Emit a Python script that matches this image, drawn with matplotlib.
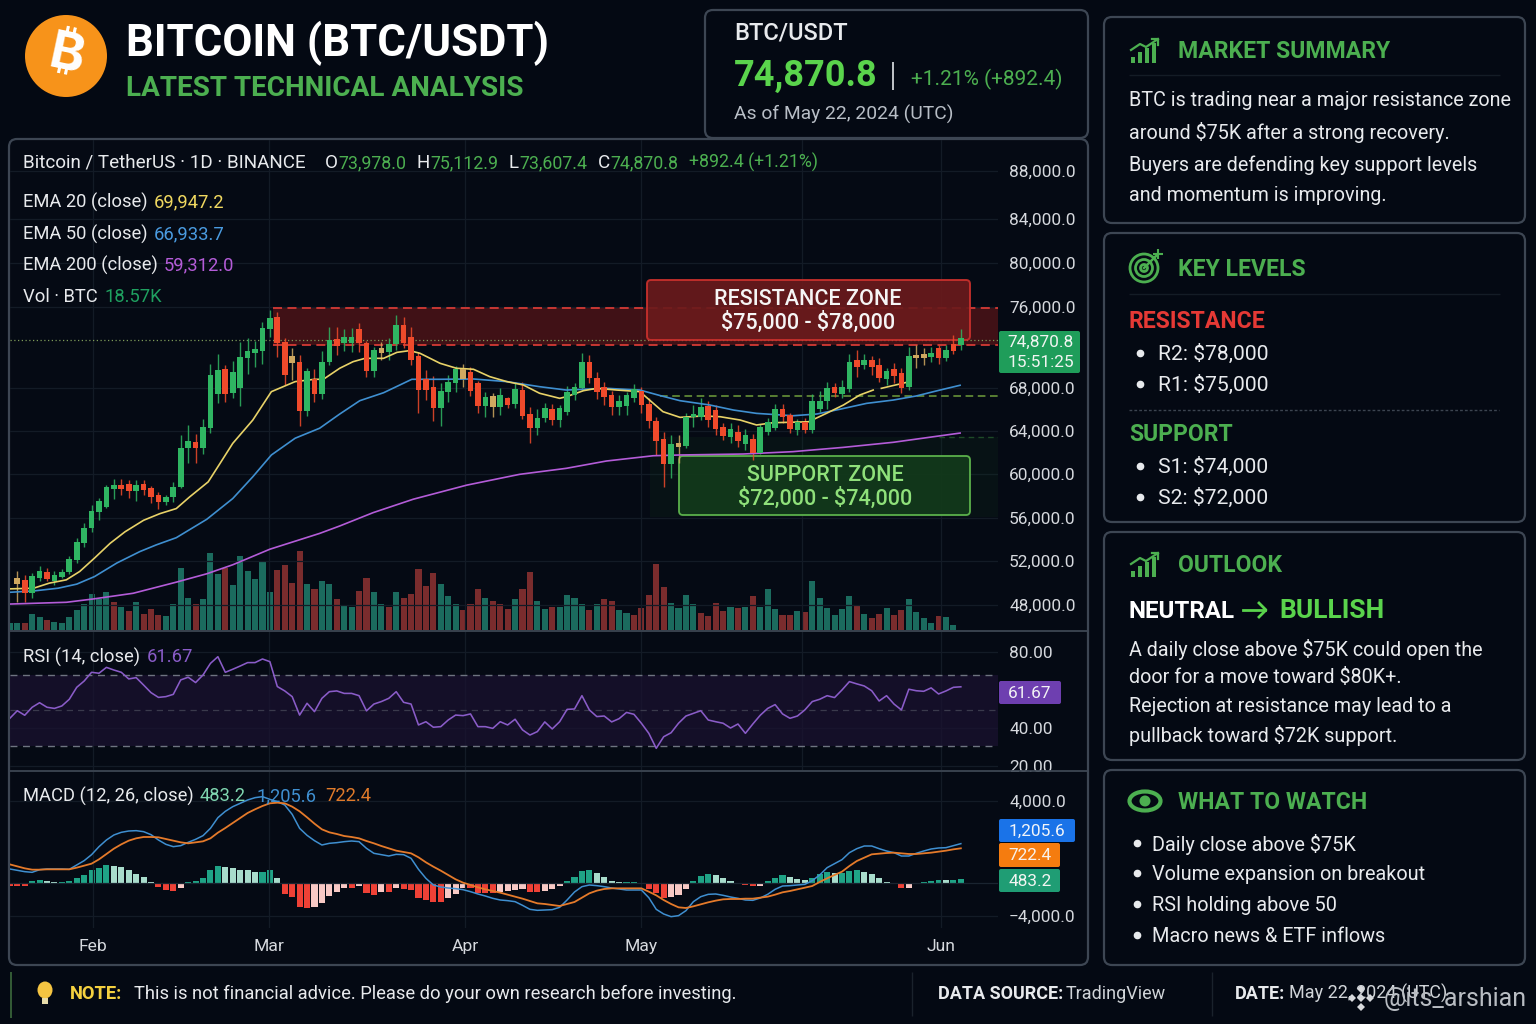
import numpy as np
import matplotlib
matplotlib.use('Agg')
import matplotlib.pyplot as plt
from matplotlib.patches import FancyBboxPatch, Rectangle, Circle, Ellipse

plt.rcParams['font.family'] = ['Roboto', 'DejaVu Sans']

# ---- data ----
opens = [49920, 50290, 49090, 50470, 51020, 50200, 50570, 51020, 52120, 53680,
         55050, 56520, 56980, 58630, 58990, 59080, 58440, 59080, 58720, 58080,
         57440, 57890, 58810, 62420, 62980, 62420, 64280, 67440, 69880, 67540,
         68000, 70960, 71460, 71660, 73830, 75010, 72540, 70470, 70570, 65860,
         68890, 67440, 70570, 72840, 72450, 72450, 73830, 72450, 69680, 71460,
         71560, 72350, 74220, 73040, 71160, 68890, 68100, 66140, 67630, 68490,
         69880, 69580, 68490, 66330, 67260, 66230, 67070, 66510, 67810, 65580,
         64280, 65210, 66050, 65020, 65770, 67350, 68000, 70570, 68990, 68100,
         67350, 66230, 66330, 67070, 67720, 66510, 64930, 63260, 60930, 62510,
         62600, 65300, 65300, 66330, 65950, 64370, 63440, 63910, 62790, 63260,
         61950, 63910, 64280, 66050, 65490, 64090, 64840, 64090, 66050, 66790,
         68100, 67440, 67910, 70770, 70270, 70770, 70270, 68890, 69880, 69480,
         68100, 71260, 70960, 71060, 71950, 70960, 72350, 72250]
highs = [51110, 50750, 50930, 51570, 51390, 51110, 51300, 52490, 54140, 55510,
         57160, 57800, 58990, 59540, 59540, 59450, 59450, 59450, 58900, 58350,
         58080, 59270, 63630, 64560, 63720, 65120, 70370, 71360, 70270, 70670,
         72540, 72940, 72640, 74520, 75710, 75510, 72940, 71950, 71260, 69980,
         69880, 71660, 74030, 74030, 73830, 73930, 74420, 72640, 72050, 72540,
         72940, 75210, 75010, 74030, 71560, 69780, 69190, 68490, 69280, 70170,
         70370, 70070, 68690, 67630, 67540, 68000, 67160, 68490, 68590, 66230,
         66050, 66600, 66510, 66420, 68200, 68490, 71460, 71260, 69580, 68590,
         67720, 67350, 67630, 68400, 68100, 67070, 65300, 63910, 63630, 63630,
         65680, 66420, 67070, 66790, 66420, 64750, 64750, 64560, 64190, 63720,
         64650, 65210, 66510, 66510, 65680, 65120, 65210, 67440, 67720, 68590,
         68490, 68790, 71360, 71750, 71360, 71160, 70960, 69980, 70470, 69980,
         72050, 72250, 71950, 72050, 72250, 72250, 73240, 73830]
lows = [48260, 48260, 48630, 50200, 50200, 49830, 50470, 50840, 51850, 53310,
        54690, 55790, 56880, 57710, 58080, 57800, 57530, 58080, 57340, 56790,
        57160, 57440, 58720, 61020, 61020, 61860, 63810, 66600, 66700, 67070,
        66330, 69380, 70070, 70370, 73040, 71060, 68300, 68790, 64470, 65400,
        66700, 66980, 70270, 71260, 71660, 71560, 71560, 69090, 69090, 70770,
        70770, 71750, 71950, 70270, 65680, 66880, 64930, 64470, 66700, 67630,
        68100, 67260, 65680, 65300, 65300, 65490, 66140, 66140, 65120, 62890,
        63630, 64840, 64560, 64370, 65490, 66880, 67810, 68490, 66980, 66420,
        65490, 65490, 65490, 66700, 65680, 64280, 61770, 58810, 59630, 61020,
        62420, 64370, 65020, 64370, 63630, 63160, 62890, 62510, 62230, 61300,
        61860, 63630, 64090, 64750, 63810, 63630, 63810, 63810, 65770, 66050,
        67160, 67070, 67630, 69090, 69880, 69280, 68590, 68300, 68490, 67540,
        67810, 69980, 70270, 70570, 70370, 70670, 71360, 71750]
closes = [50470, 49090, 50660, 51110, 50380, 50750, 51020, 52210, 53770, 55050,
          56610, 57530, 58810, 58990, 58630, 58440, 58990, 58530, 57890, 57440,
          57890, 58810, 62420, 63070, 62420, 64370, 69280, 69780, 67440, 69580,
          71060, 71660, 71850, 73930, 74920, 72450, 69280, 71160, 65860, 69680,
          67440, 70570, 72740, 72150, 73040, 73040, 72450, 69680, 71750, 71950,
          72350, 74220, 72450, 70770, 67810, 67810, 66140, 67720, 68590, 69880,
          68890, 67720, 66330, 67160, 66230, 67350, 66420, 67910, 65400, 64280,
          65210, 66140, 65020, 66140, 67630, 68100, 70570, 68990, 67630, 67160,
          66230, 66790, 67350, 67910, 66420, 64930, 63070, 60930, 62790, 62890,
          65300, 65580, 66230, 65020, 64190, 63530, 64190, 63070, 63630, 61950,
          64370, 64840, 66050, 65300, 64190, 64840, 64090, 66790, 66790, 68000,
          67540, 68100, 70570, 70070, 70770, 70070, 68990, 69680, 69190, 68000,
          71160, 70960, 71360, 71460, 70960, 71750, 71660, 72940]
muted_candles = [0, 37, 49, 60, 64, 89, 121, 122]

volumes = [26, 26, 26, 59, 48, 37, 30, 26, 48, 74,
           96, 133, 115, 141, 104, 85, 70, 104, 59, 78,
           56, 52, 96, 229, 118, 96, 115, 285, 207, 229,
           167, 274, 218, 189, 255, 141, 222, 241, 174, 292,
           170, 152, 181, 170, 115, 93, 85, 144, 192, 141,
           96, 85, 141, 118, 133, 226, 163, 211, 170, 126,
           96, 74, 96, 152, 118, 107, 96, 78, 115, 152,
           215, 107, 78, 85, 85, 130, 118, 96, 74, 96,
           115, 107, 74, 63, 56, 81, 130, 244, 159, 100,
           81, 130, 96, 63, 52, 100, 70, 85, 81, 85,
           126, 85, 152, 78, 56, 56, 70, 67, 181, 118,
           81, 56, 78, 126, 93, 59, 44, 59, 81, 56,
           74, 115, 67, 44, 26, 52, 48, 18.57]
vol_dirs = ("UUDUUDUUUU" "UUUUDUDUDD" "DUUUUDUUUD" "UUUUUUDDDD" "UDUUDUUDDU" "UDUDDDDDUU"
            "UDDDUDDDUD" "DUUDUUUUDU" "DDUUDDDDDU" "UUUDDDDUDU" "DUUUDDUDUU" "UUUUDUDDUD" "DUUUUDUU")

ema20_x = [-1, 2.2, 4.3, 6.6, 8.4, 10.4, 12.5, 14.5, 17, 19.2, 21.4, 23.2, 25.7, 27.3, 29, 31.7, 34.2, 37.4, 40, 41.2,
           43.4, 45.2, 46.8, 49.3, 51.1, 52.8, 54.2, 56.9, 59.1, 61.4, 63.6, 65.9, 68.1, 70.3, 73, 73.9, 76.2, 78, 80.7,
           83.8, 85.1, 86.9, 89.2, 92.3, 94.6, 97.3, 99.5, 101.7, 106.5, 108.9, 111.2, 113.4, 115.2, 115.7, 116.3, 118.8, 120.1]
ema20 = [49470, 49530, 49990, 50290, 51050, 52280, 53650, 54720, 55790, 56400, 56860, 57920, 59290, 61000, 62850, 65020,
         67660, 68630, 68860, 68860, 69950, 70600, 70930, 70930, 71520, 71690, 71430, 70440, 69950, 69850, 69120, 68630,
         68300, 67510, 67040, 67190, 67750, 67970, 67810, 67660, 66880, 65800, 65270, 65400, 65330, 65020, 64560, 64770,
         64860, 65640, 66420, 67350, 67810, np.nan, 67970, 68400, 68630]
ema50_x = [-1, 2.2, 5.5, 8, 10.4, 13.4, 16.5, 18.7, 21.4, 25.5, 29, 31.7, 34.2, 37.4, 40.7, 43.4, 46.1, 49.3, 51.5, 53.1,
           56.9, 61.4, 65.9, 70.3, 73.9, 79.3, 83.8, 86.5, 89.2, 93.2, 96.4, 99.5, 104.4, 107.6, 110.7, 114.3, 117.9, 121,
           124.2, 126.9]
ema50 = [49160, 49280, 49530, 49900, 50590, 51820, 52880, 53500, 54170, 55880, 57770, 59750, 61770, 63330, 64260, 65580,
         66820, 67560, 68300, 68860, 68860, 68890, 68630, 68130, 67810, 67970, 67810, 67300, 66820, 66420, 65950, 65640,
         65420, 65580, 66020, 66570, 66880, 67260, 67810, 68270]
ema200_x = [-1, 6.6, 10.2, 15.6, 21.4, 25.5, 29, 34, 37.6, 40.7, 43.4, 47.9, 53.3, 60.5, 67.6, 73.9, 79.3, 85.6, 89.2,
            97.7, 104.4, 111.2, 117.9, 122.4, 126.9]
ema200 = [48090, 48250, 48550, 49070, 50080, 50840, 51660, 53100, 53890, 54570, 55260, 56490, 57710, 58990, 59970, 60530,
          61210, 61700, 61770, 61860, 62080, 62480, 62950, 63380, 63810]

rsi = [45.1, 49.1, 46.7, 50.9, 53.3, 50.9, 50.3, 51.6, 55.1, 61.4, 64.7, 69.3, 68.8, 71.9, 70.5, 69.3, 65.8, 66.5, 62.6, 58.6,
       56.1, 56.5, 57.7, 65.3, 66.7, 63.9, 67.9, 74.0, 77.5, 69.3, 70.9, 72.6, 74.4, 74.4, 76.3, 74.9, 61.8, 59.5, 56.5, 46.8,
       53.0, 48.6, 55.6, 59.1, 59.5, 58.2, 58.2, 57.0, 49.0, 52.6, 53.9, 55.6, 59.1, 53.5, 52.6, 41.6, 43.3, 40.4, 40.7, 44.2,
       46.8, 46.5, 47.4, 40.7, 40.7, 39.8, 43.3, 41.6, 44.6, 39.0, 36.3, 38.1, 43.2, 39.5, 43.3, 49.8, 50.0, 57.0, 49.5, 46.0,
       46.3, 43.2, 44.9, 48.2, 47.2, 42.5, 37.2, 29.3, 35.4, 37.5, 42.5, 46.3, 47.7, 49.1, 44.2, 43.3, 42.5, 40.0, 42.1, 37.2,
       42.1, 46.7, 50.3, 52.3, 47.4, 45.1, 46.3, 49.5, 53.9, 55.1, 57.0, 56.0, 60.0, 64.4, 63.2, 62.1, 59.6, 54.2, 57.0, 52.6,
       49.5, 60.4, 59.6, 59.3, 61.1, 57.9, 59.5, 61.4, 61.67]

macd = [-730, -823, -916, -962, -777, -730, -730, -730, -754, -452, -150, 267, 824, 1288, 1636, 1822, 1914, 1938, 1868, 1659,
        1288, 986, 824, 894, 1126, 1334, 1590, 2100, 2842, 3283, 3608, 3840, 4072, 4234, 4304, 4118, 3956, 3724, 3074, 2100,
        1613, 1242, 940, 1056, 1102, 1172, 1218, 1172, 708, 360, 267, 174, 290, 267, 12, -754, -1380, -1844, -1983, -2053,
        -2099, -2169, -2308, -2470, -2610, -2772, -2888, -2934, -3004, -3259, -3538, -3607, -3584, -3561, -3398, -2888, -2331, -1960, -1844, -1890,
        -1960, -2053, -2122, -2192, -2192, -2192, -2726, -3538, -3862, -4048, -3978, -3630, -3004, -2656, -2494, -2470, -2563, -2679, -2772, -2888,
        -2911, -2749, -2494, -2146, -1914, -1890, -1844, -1798, -1542, -1148, -638, -359, -81, 406, 685, 870, 870, 685, 522,
        406, 174, 174, 360, 522, 662, 731, 754, 894, 1033]
signal = [-410, -545, -684, -777, -777, -754, -754, -754, -754, -638, -498, -359, -58, 314, 685, 986, 1242, 1404, 1497, 1497,
          1474, 1358, 1242, 1126, 1056, 1126, 1195, 1404, 1798, 2123, 2471, 2819, 3167, 3422, 3654, 3840, 3886, 3840, 3608, 3283,
          2866, 2425, 2030, 1822, 1706, 1566, 1497, 1404, 1218, 1056, 870, 708, 546, 453, 360, 82, -266, -568, -846, -1148,
          -1450, -1682, -1844, -2006, -2146, -2262, -2378, -2517, -2656, -2795, -2958, -3120, -3166, -3236, -3306, -3166, -3027, -2726, -2424, -2238,
          -2122, -2076, -2076, -2076, -2076, -2076, -2308, -2563, -2888, -3166, -3398, -3445, -3329, -3190, -3050, -2934, -2842, -2818, -2818, -2795,
          -2795, -2726, -2656, -2517, -2354, -2262, -2146, -2030, -1914, -1635, -1380, -1148, -916, -522, -174, 58, 290, 337, 383,
          406, 360, 314, 314, 360, 406, 476, 546, 638, 708]
hist = [-296, -296, -296, 185, 370, 222, 74, 74, 185, 518, 888, 1406, 1702, 1961, 1924, 1739, 1480, 1036, 629, 74,
        -444, -740, -888, -555, 74, 185, 518, 1480, 1924, 1776, 1628, 1480, 1406, 1184, 1221, 1406, 518, -1184, -1554, -2664,
        -2812, -2738, -2294, -1480, -1036, -555, -555, -370, -1110, -1295, -999, -1036, -555, -666, -740, -1665, -1850, -2146, -2146, -1665,
        -1184, -555, -555, -1110, -1110, -1110, -1036, -925, -740, -666, -1036, -1036, -925, -666, -370, 222, 666, 1295, 1480, 1110,
        666, 222, 74, 74, 74, -74, -666, -1110, -1665, -1554, -1295, -666, 259, 740, 1036, 888, 555, 222, -74, -185,
        -370, -296, 222, 592, 851, 666, 444, 370, 592, 1036, 1184, 1110, 1110, 1295, 1406, 1184, 962, 592, 111, -111,
        -592, -518, -111, 74, 185, 333, 296, 296, 483]

price_ticks = [48000, 52000, 56000, 60000, 64000, 68000, 76000, 80000, 84000, 88000]
rsi_ticks = [80, 40, 20]
macd_ticks = [4000, -4000]
month_labels = ['Feb', 'Mar', 'Apr', 'May', 'Jun']
month_pos = [10.2, 33.9, 60.3, 84.0, 124.3]
resistance_zone = (72250, 75900)
support_zone = (56060, 63440)
last_price = 72740
support_line = 67300

# the price axis in the picture is not evenly spaced, so map it through its own tick rows
scale_prices = [44000, 48000, 52000, 56000, 60000, 64000, 68000, 72000, 76000, 80000, 84000, 88000, 92000]
scale_rows = [648.4, 605, 561, 518, 474, 431, 388, 347.5, 307, 263, 219, 171, 123]

# ---- colours ----
BG = '#040913'
BORDER = '#3d4653'
GRID = '#131b26'
GREEN = '#4caf50'
BRIGHT = '#5ad44c'
TXT = '#e8eaed'
UP = '#2fb562'
DOWN = '#ef4a2b'
MUTED = '#cfa860'

W, H = 1536, 1024
fig = plt.figure(figsize=(W / 100, H / 100), dpi=100, facecolor=BG)


def px_axes(x0, y0, x1, y1, z):
    a = fig.add_axes([x0 / W, 1 - y1 / H, (x1 - x0) / W, (y1 - y0) / H], zorder=z)
    a.patch.set_visible(False)
    for s in a.spines.values():
        s.set_visible(False)
    return a


bg = px_axes(0, 0, W, H, 0)
ui = px_axes(0, 0, W, H, 10)
for a in (bg, ui):
    a.set_xlim(0, W)
    a.set_ylim(H, 0)
    a.axis('off')


def box(target, x0, y0, x1, y1, fc='none', ec=BORDER, lw=1.6, r=8, z=1, alpha=None):
    p = FancyBboxPatch((x0 + r, y0 + r), x1 - x0 - 2 * r, y1 - y0 - 2 * r, boxstyle=f'round,pad={r},rounding_size={r}',
                       fc=fc, ec=ec, lw=lw, zorder=z, alpha=alpha, transform=bg.transData, clip_on=False)
    target.add_patch(p)


def t(x, y, s, size, color=TXT, weight='normal', ha='left'):
    ui.text(x, y + size * 0.07, s, fontsize=size, color=color, fontweight=weight, ha=ha, va='center', parse_math=False)


# panels
box(bg, 9, 139, 1088, 965, fc='#050a14')
box(bg, 705, 10, 1088, 138, fc=BG)
box(bg, 1104, 17, 1525, 223, fc=BG)
box(bg, 1104, 233, 1525, 522, fc=BG)
box(bg, 1104, 532, 1525, 760, fc=BG)
box(bg, 1104, 770, 1525, 965, fc=BG)

# ---- chart panes ----
XMIN, XMAX = -0.98, 132.0
vol_ax = px_axes(10, 140, 998, 630, 1)
ax = px_axes(10, 140, 998, 630, 2)
rsi_ax = px_axes(10, 632, 998, 770, 2)
macd_ax = px_axes(10, 772, 998, 928, 2)
hist_ax = px_axes(10, 772, 998, 928, 1)


def fwd(p):
    return -np.interp(p, scale_prices, scale_rows)


def inv(v):
    return np.interp(v, -np.array(scale_rows), scale_prices)


ax.set_yscale('function', functions=(fwd, inv))
ax.set_ylim(45700, 90580)
ax.set_xlim(XMIN, XMAX)
x = np.arange(len(opens))

o, h, l, c = map(np.array, (opens, highs, lows, closes))
cols = np.where(c >= o, UP, DOWN).astype(object)
cols[muted_candles] = MUTED
ax.vlines(x, l, h, colors=list(cols), lw=1.0, zorder=3, alpha=0.85)
ax.bar(x, np.maximum(np.abs(c - o), 60), bottom=np.minimum(o, c), width=0.76, color=list(cols), zorder=4)

ax.plot(ema200_x, ema200, color='#b45cd8', lw=1.2, zorder=3.5)
ax.plot(ema50_x, ema50, color='#3f8fd0', lw=1.2, zorder=3.5)
ax.plot(ema20_x, ema20, color='#e8d268', lw=1.2, zorder=3.5)

# zones and levels
zx0 = 34.4
ax.fill_between([zx0, XMAX], *resistance_zone, color='#5a1518', alpha=0.7, lw=0, zorder=1)
ax.hlines(resistance_zone, zx0, XMAX, colors='#d43a35', lw=1.3, linestyles=(0, (5, 3)), zorder=2)
ax.fill_between([85.2, XMAX], *support_zone, color='#123a1c', alpha=0.18, lw=0, zorder=1)
ax.hlines(support_zone[1], 124, XMAX, colors='#1e4a28', lw=1, linestyles=(0, (4, 3)), zorder=2)
ax.hlines(support_line, 86.5, XMAX, colors='#6f9e3c', lw=1.1, linestyles=(0, (5, 3)), zorder=2)
ax.hlines(last_price, XMIN, XMAX, colors='#7d9a58', lw=0.9, linestyles=(0, (1, 2)), zorder=2)
box(ax, 647, 280, 970, 340, fc='#6a1a1c', ec='#c9302c', lw=1.4, r=4, z=2.5, alpha=0.92)
box(ax, 679, 456, 970, 515, fc='#12391b', ec='#5fb84e', lw=1.3, r=4, z=2.5, alpha=0.95)
t(808, 298, 'RESISTANCE ZONE', 15.5, '#f5f5f5', 'medium', 'center')
t(808, 322, '$75,000 - $78,000', 15.5, '#f5f5f5', 'medium', 'center')
t(825, 474, 'SUPPORT ZONE', 15.5, '#8fe07a', 'medium', 'center')
t(825, 498, '$72,000 - $74,000', 15.5, '#8fe07a', 'medium', 'center')

# volume
vx = np.arange(-1, len(volumes) - 1)
vol_cols = ['#1b6b5e' if d == 'U' else '#7a2c2d' for d in vol_dirs]
vol_ax.bar(vx, volumes, width=0.82, color=vol_cols)
vol_ax.set_xlim(XMIN, XMAX)
vol_ax.set_ylim(0, 490 * 3.714)
vol_ax.set_xticks([])
vol_ax.set_yticks([])

# rsi
rx = np.arange(-1, len(rsi) - 1)
rsi_ax.set_xlim(XMIN, XMAX)
rsi_ax.set_ylim(17.9, 90.5)
rsi_ax.fill_between([XMIN, XMAX], 30.5, 68, color='#1a1230', alpha=0.75, lw=0, zorder=1)
rsi_ax.hlines([68, 30.5], XMIN, XMAX, colors='#6e7480', lw=1, linestyles=(0, (5, 4)), zorder=2)
rsi_ax.hlines(49.5, XMIN, XMAX, colors='#3a3a4c', lw=0.9, linestyles=(0, (5, 4)), zorder=2)
rsi_ax.plot(rx, rsi, color='#8a5cc8', lw=1.15, zorder=3)

# macd
mx = np.arange(-1, len(macd) - 1)
macd_ax.set_xlim(XMIN, XMAX)
macd_ax.set_ylim((858.5 - 928) * 69.6, (858.5 - 772) * 69.6)
hist_ax.set_xlim(XMIN, XMAX)
hist_ax.set_ylim(-(928 - 883) * 112, (883 - 772) * 112)
hist_cols = []
for i, v in enumerate(hist):
    prev = hist[i - 1] if i else v
    if v >= 0:
        hist_cols.append('#1fa386' if v >= prev else '#a8dccc')
    else:
        hist_cols.append('#ef4136' if v <= prev else '#f8c9c5')
hist_ax.bar(mx, hist, width=0.82, color=hist_cols, zorder=2)
hist_ax.set_xticks([])
hist_ax.set_yticks([])
macd_ax.plot(mx, macd, color='#3f8fd0', lw=1.1, zorder=3)
macd_ax.plot(mx, signal, color='#e57a2a', lw=1.3, zorder=4)

# ticks and grids
ax.set_yticks(price_ticks)
ax.set_yticklabels([f'{v:,.1f}' for v in price_ticks])
rsi_ax.set_yticks(rsi_ticks)
rsi_ax.set_yticklabels([f'{v:.2f}' for v in rsi_ticks])
macd_ax.set_yticks(macd_ticks)
macd_ax.set_yticklabels([f'{v:,.1f}'.replace('-', '\u2212') for v in macd_ticks])
macd_ax.set_xticks(month_pos)
macd_ax.set_xticklabels(month_labels)
ax.set_xticks(month_pos + [105.6])
ax.set_xticklabels([])
rsi_ax.set_xticks(month_pos + [105.6])
rsi_ax.set_xticklabels([])
for a in (ax, rsi_ax, macd_ax):
    a.yaxis.tick_right()
    a.tick_params(axis='y', length=0, pad=8, labelsize=12.4, labelcolor='#d6d9de')
    a.tick_params(axis='x', length=0, pad=8, labelsize=12.6, labelcolor='#d6d9de')
    a.grid(True, color=GRID, lw=0.9, zorder=0)
    a.set_axisbelow(True)
macd_ax.axhline((858.5 - 883) * 69.6, color='#1a2430', lw=0.9, zorder=1)

# pane dividers
ui.hlines([631, 771], 10, 1087, colors=BORDER, lw=1.3)

# legends inside the chart
t(23, 162, 'Bitcoin / TetherUS · 1D · BINANCE', 13.6, TXT)
for xp, lab, xv, val in [(325, 'O', 338, '73,978.0'), (417, 'H', 430, '75,112.9'),
                         (508, 'L', 519, '73,607.4'), (598, 'C', 610, '74,870.8')]:
    t(xp, 162, lab, 13.6, TXT)
    t(xv, 162, val, 12.8, GREEN)
t(689, 162, '+892.4 (+1.21%)', 12.8, GREEN)
t(23, 201, 'EMA 20 (close)', 13.2)
t(154, 201, '69,947.2', 13.2, '#f0d860')
t(23, 233, 'EMA 50 (close)', 13.2)
t(154, 233, '66,933.7', 13.2, '#4a9be0')
t(23, 264, 'EMA 200 (close)', 13.2)
t(164, 264, '59,312.0', 13.2, '#b45cd8')
t(23, 296, 'Vol · BTC', 13.2)
t(105, 296, '18.57K', 13.2, '#1fa060')
t(23, 656, 'RSI (14, close)', 13.2)
t(147, 656, '61.67', 13.2, '#8a5cc8')
t(23, 795, 'MACD (12, 26, close)', 13.2)
t(200, 795, '483.2', 13.2, '#7fd6b0')
t(256, 795, '1,205.6', 13.2, '#3f8fd0')
t(325, 795, '722.4', 13.2, '#e07a2a')

# value tags
box(ui, 999, 331, 1080, 373, fc='#1f9d5a', ec='none', lw=0, r=2)
t(1041, 341, '74,870.8', 12.4, '#f2f5f2', ha='center')
t(1041, 362, '15:51:25', 12.4, '#f2f5f2', ha='center')
box(ui, 999, 681, 1061, 704, fc='#6e3fb0', ec='none', lw=0, r=2)
t(1030, 692.5, '61.67', 12.4, '#f2f2f5', ha='center')
box(ui, 999, 819, 1075, 842, fc='#1a73e8', ec='none', lw=0, r=2)
t(1037, 830.5, '1,205.6', 12.4, '#f2f5f9', ha='center')
box(ui, 999, 843, 1060, 867, fc='#f57c0f', ec='none', lw=0, r=2)
t(1030, 855, '722.4', 12.4, '#f9f2ec', ha='center')
box(ui, 999, 869, 1060, 892, fc='#1f9d74', ec='none', lw=0, r=2)
t(1030, 880.5, '483.2', 12.4, '#f2f5f2', ha='center')

# ---- header ----
ui.add_patch(Circle((66, 56), 41, fc='#f7931a', ec='none'))
ui.text(66, 57, '\u20bf', fontsize=38, color='white', fontweight='bold', ha='center', va='center', rotation=-12,
        family=['Inter', 'Noto Sans', 'Open Sans', 'Roboto', 'Lato'])
t(126, 41, 'BITCOIN (BTC/USDT)', 31.5, 'white', 'bold')
t(126, 87, 'LATEST TECHNICAL ANALYSIS', 20.1, GREEN, 'bold')
t(734, 32, 'BTC/USDT', 17, '#e8eaed', 'medium')
t(734, 74, '74,870.8', 26, BRIGHT, 'bold')
ui.vlines(893, 62, 90, colors='#d0d4d8', lw=1.3)
t(911, 78, '+1.21% (+892.4)', 15, GREEN)
t(734, 113, 'As of May 22, 2024 (UTC)', 13.9, '#b8bec6')


# ---- icons ----
def bars_icon(x0, y0):
    for dx, hgt in [(0, 6), (7, 11), (14, 15), (21, 20)]:
        ui.add_patch(Rectangle((x0 + dx, y0 + 25 - hgt), 4, hgt, fc=GREEN, ec='none'))
    ui.plot([x0, x0 + 9, x0 + 15, x0 + 27], [y0 + 12, y0 + 6, y0 + 9, y0 + 1], color=GREEN, lw=1.6)
    ui.plot([x0 + 21, x0 + 27, x0 + 27], [y0 + 1, y0 + 1, y0 + 7], color=GREEN, lw=1.6)


bars_icon(1131, 38)
bars_icon(1131, 552)
for r in (14, 8.5, 3.5):
    ui.add_patch(Circle((1144, 268), r, fc='none', ec=GREEN, lw=2))
ui.plot([1144, 1157], [268, 255], color=GREEN, lw=1.8)
ui.plot([1158], [254], marker='+', ms=7, color=GREEN, mew=1.5)
ui.add_patch(Ellipse((1145, 801), 31, 19, fc='none', ec=GREEN, lw=3))
ui.add_patch(Circle((1145, 801), 5.5, fc=GREEN, ec='none'))

# ---- right panels ----
SIZE_BODY = 14.2
SIZE_HEAD = 16.6
t(1178, 50, 'MARKET SUMMARY', SIZE_HEAD, GREEN, 'bold')
ui.hlines(75, 1129, 1500, colors='#141c26', lw=1)
for yy, line in zip([100, 132, 164, 195], ['BTC is trading near a major resistance zone',
                                           'around $75K after a strong recovery.',
                                           'Buyers are defending key support levels',
                                           'and momentum is improving.']):
    t(1129, yy, line, SIZE_BODY)

t(1178, 268, 'KEY LEVELS', SIZE_HEAD, GREEN, 'bold')
ui.hlines(294, 1129, 1500, colors='#141c26', lw=1)
t(1129, 320, 'RESISTANCE', SIZE_HEAD, '#e53935', 'bold')
t(1129, 433, 'SUPPORT', SIZE_HEAD, GREEN, 'bold')
ui.hlines(410, 1129, 1499, colors='#3c4450', lw=1, linestyles=(0, (2, 1.5)))
for yy, line in zip([353, 384, 466, 497], ['R2: $78,000', 'R1: $75,000', 'S1: $74,000', 'S2: $72,000']):
    ui.plot([1140], [yy], 'o', ms=4.5, color=TXT)
    t(1158, yy, line, 15.2)

t(1178, 564, 'OUTLOOK', SIZE_HEAD, GREEN, 'bold')
t(1129, 610, 'NEUTRAL', 17.4, 'white', 'bold')
ui.plot([1243, 1265], [610, 610], color=BRIGHT, lw=2)
ui.plot([1259, 1266, 1259], [603, 610, 617], color=BRIGHT, lw=2)
t(1279, 610, 'BULLISH', 19, BRIGHT, 'bold')
for yy, line in zip([649, 677, 706, 735], ['A daily close above $75K could open the',
                                           'door for a move toward $80K+.',
                                           'Rejection at resistance may lead to a',
                                           'pullback toward $72K support.']):
    t(1129, yy, line, SIZE_BODY)

t(1178, 801, 'WHAT TO WATCH', SIZE_HEAD, GREEN, 'bold')
for yy, line in zip([843, 873, 904, 935], ['Daily close above $75K', 'Volume expansion on breakout',
                                           'RSI holding above 50', 'Macro news & ETF inflows']):
    ui.plot([1137], [yy], 'o', ms=4.5, color=TXT)
    t(1152, yy, line, 14.3)

# ---- footer ----
ui.vlines(11, 972, 1018, colors='#3c6a3c', lw=1.2)
ui.vlines([912, 1212], 972, 1016, colors='#1a222c', lw=1)
ui.add_patch(Ellipse((45, 990), 15, 17, fc='#f5c542', ec='none'))
ui.add_patch(Rectangle((42, 998), 6, 6, fc='#e8dcaa', ec='none'))
t(70, 993, 'NOTE:', 13.2, '#f4d03f', 'bold')
t(134, 993, 'This is not financial advice. Please do your own research before investing.', 13.2, TXT)
t(938, 993, 'DATA SOURCE:', 13, TXT, 'bold')
t(1066, 993, 'TradingView', 13, '#d0d4d8')
t(1235, 993, 'DATE:', 13, TXT, 'bold')
t(1289, 993, 'May 22, 2024 (UTC)', 13, '#d0d4d8')
# watermark
for dx, dy, ms in [(0, -9, 4), (-9, 0, 4), (9, 0, 4), (0, 9, 4), (0, 0, 4)]:
    ui.plot([1361 + dx], [998 + dy], 'D', ms=ms, color='#d8dadd', mew=0)
t(1384, 998, '@its_arshian', 18, '#b8bcc2')

fig.savefig('out.png', dpi=100, facecolor=BG)
